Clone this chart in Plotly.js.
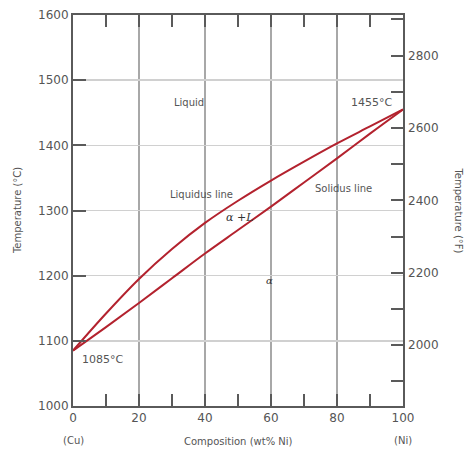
<!DOCTYPE html>
<html>
<head>
<meta charset="utf-8">
<script src="https://cdn.plot.ly/plotly-3.0.1.min.js"></script>
<style>html,body{margin:0;padding:0;background:#fff;}#chart{width:474px;height:470px;}</style>
</head>
<body>
<div id="chart"></div>
<script>
const composition = [0, 10, 20, 30, 40, 50, 60, 70, 80, 90, 100];
const liquidusC = [1085, 1142, 1195, 1241, 1281, 1315, 1346, 1375, 1403, 1429, 1455];
const solidusC = [1085, 1121, 1158, 1196, 1234, 1270, 1306, 1343, 1380, 1418, 1455];
const celsiusTicks = [1000, 1100, 1200, 1300, 1400, 1500, 1600];
const compTicks = [0, 20, 40, 60, 80, 100];
const fahrenheitTicks = [1900, 2000, 2100, 2200, 2300, 2400, 2500, 2600, 2700, 2800, 2900];
const fahrenheitLabels = ['', '2000', '', '2200', '', '2400', '', '2600', '', '2800', ''];

const red = '#b3222e';
const axisCol = '#5a5a5a';
const txtCol = '#555';
const fam = 'DejaVu Sans, sans-serif';

const traces = [
  {x: composition, y: liquidusC, mode: 'lines', line: {color: red, width: 2, shape: 'spline', smoothing: 1}, hoverinfo: 'skip'},
  {x: composition, y: solidusC, mode: 'lines', line: {color: red, width: 2, shape: 'spline', smoothing: 1}, hoverinfo: 'skip'},
  {x: [], y: [], yaxis: 'y2', mode: 'lines', hoverinfo: 'skip'}
];

function ann(x, y, text, extra) {
  return Object.assign({x: x, y: y, xref: 'x', yref: 'y', text: text, showarrow: false,
    font: {family: fam, size: 10, color: txtCol}}, extra || {});
}

const layout = {
  width: 474, height: 470,
  margin: {l: 73, r: 71, t: 15, b: 64},
  paper_bgcolor: '#fff', plot_bgcolor: '#fff',
  showlegend: false,
  xaxis: {
    range: [0, 100], tickvals: compTicks, ticks: 'inside', ticklen: 12, tickwidth: 2, tickcolor: axisCol,
    minor: {dtick: 10, ticks: 'inside', ticklen: 7, tickwidth: 1.5, tickcolor: axisCol, showgrid: false},
    showline: true, linecolor: axisCol, linewidth: 2, mirror: 'allticks',
    showgrid: true, gridcolor: '#a8a8a8', gridwidth: 1.5, zeroline: false,
    tickfont: {family: fam, size: 12, color: txtCol}
  },
  yaxis: {
    range: [1000, 1600], tickvals: celsiusTicks, ticks: 'inside', ticklen: 13, tickwidth: 2, tickcolor: axisCol,
    showline: true, linecolor: axisCol, linewidth: 2, mirror: true,
    showgrid: true, gridcolor: '#d0d0d0', gridwidth: 1.5, zeroline: false,
    tickfont: {family: fam, size: 12, color: txtCol}
  },
  yaxis2: {
    overlaying: 'y', side: 'right', range: [1832, 2912],
    tickvals: fahrenheitTicks, ticktext: fahrenheitLabels,
    ticks: 'inside', ticklen: 12, tickwidth: 2, tickcolor: axisCol, ticklabelstandoff: 4,
    showline: false, showgrid: false, zeroline: false,
    tickfont: {family: fam, size: 12, color: txtCol}
  },
  annotations: [
    ann(35, 1465, 'Liquid'),
    ann(90.5, 1465, '1455°C', {font: {family: fam, size: 11, color: txtCol}}),
    ann(39, 1325, 'Liquidus line'),
    ann(50.5, 1290, 'α +L', {font: {family: 'DejaVu Serif, serif', size: 11, color: '#333', style: 'italic'}}),
    ann(82, 1334, 'Solidus line'),
    ann(59.5, 1193, 'α', {font: {family: 'DejaVu Serif, serif', size: 10, color: '#333', style: 'italic'}}),
    ann(9, 1071, '1085°C', {font: {family: fam, size: 11, color: txtCol}}),
    {xref: 'paper', yref: 'paper', x: 0, y: -0.088, xanchor: 'center', yanchor: 'middle', text: '(Cu)', showarrow: false,
      font: {family: fam, size: 10, color: txtCol}},
    {xref: 'paper', yref: 'paper', x: 0.5, y: -0.09, xanchor: 'center', yanchor: 'middle', text: 'Composition (wt% Ni)', showarrow: false,
      font: {family: fam, size: 10, color: txtCol}},
    {xref: 'paper', yref: 'paper', x: 1, y: -0.088, xanchor: 'center', yanchor: 'middle', text: '(Ni)', showarrow: false,
      font: {family: fam, size: 10, color: txtCol}},
    {xref: 'paper', yref: 'paper', x: -0.168, y: 0.50, xanchor: 'center', yanchor: 'middle', textangle: -90,
      text: 'Temperature (°C)', showarrow: false, font: {family: fam, size: 10, color: txtCol}},
    {xref: 'paper', yref: 'paper', x: 1.167, y: 0.50, xanchor: 'center', yanchor: 'middle', textangle: 90,
      text: 'Temperature (°F)', showarrow: false, font: {family: fam, size: 10, color: txtCol}}
  ]
};

Plotly.newPlot('chart', traces, layout, {displayModeBar: false, staticPlot: true});
</script>
</body>
</html>
